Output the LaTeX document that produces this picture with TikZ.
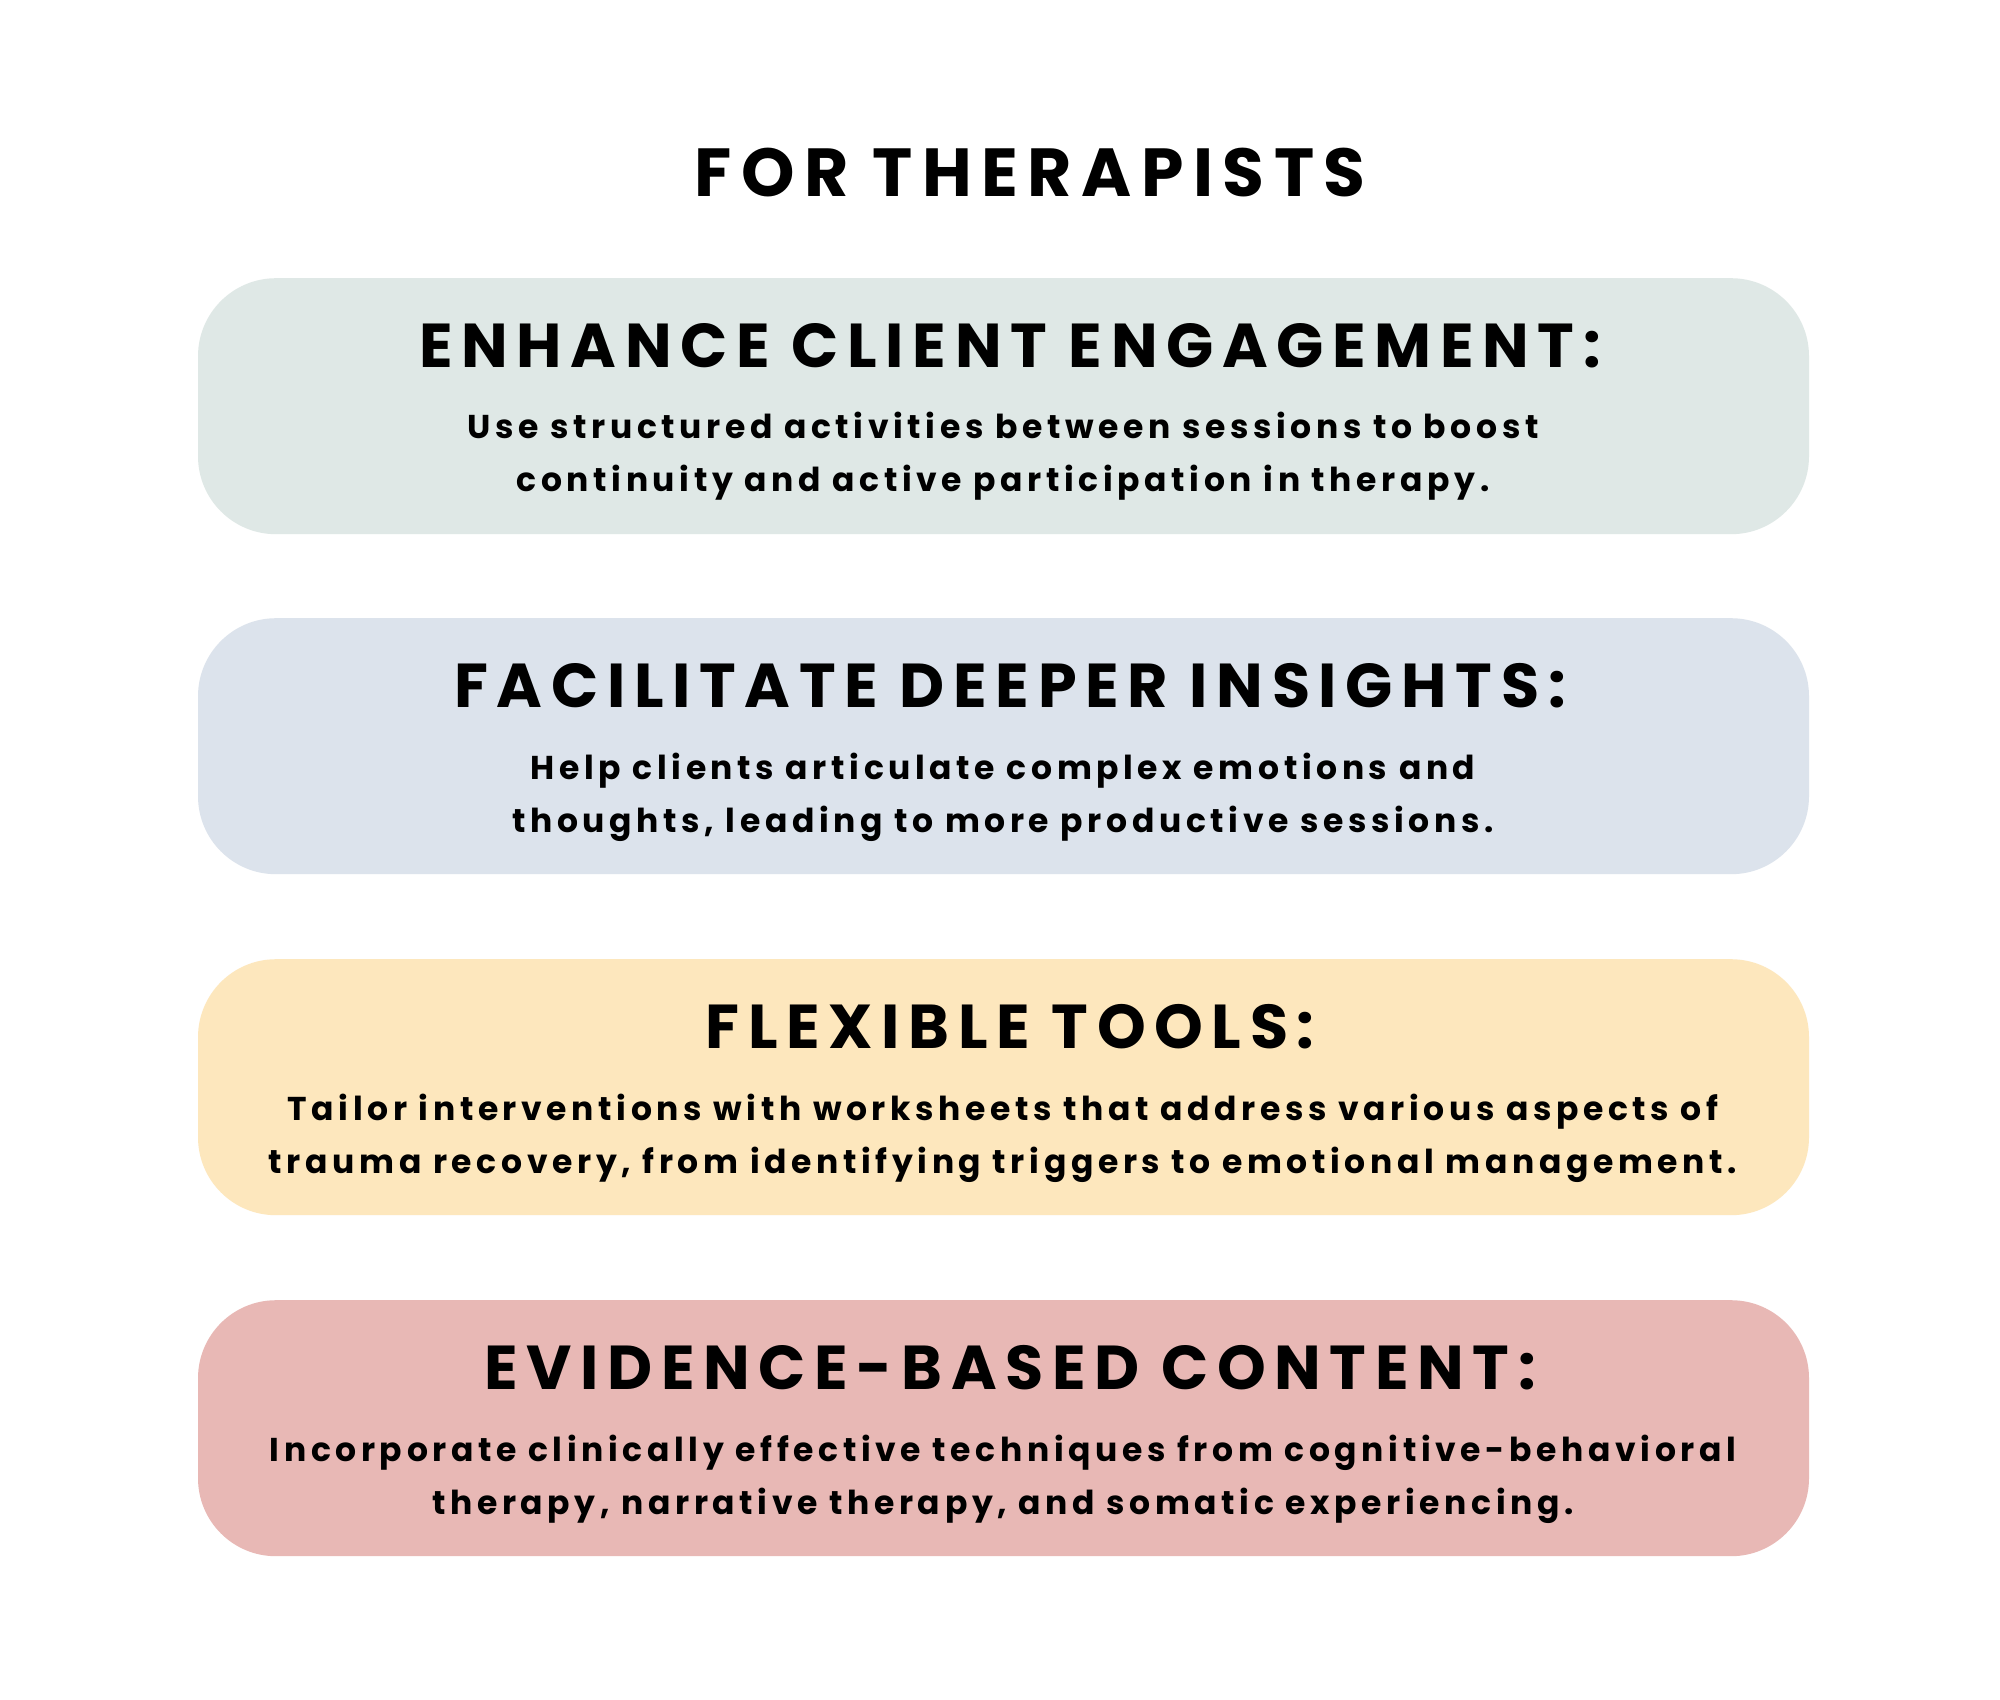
\documentclass[tikz,border=0pt]{standalone}
\usepackage{fontspec}
\setmainfont{Poppins}
\definecolor{c1}{HTML}{DFE8E6}
\definecolor{c2}{HTML}{DCE3EC}
\definecolor{c3}{HTML}{FDE7BD}
\definecolor{c4}{HTML}{E8B8B5}
\begin{document}
\begin{tikzpicture}[x=1pt,y=-1pt,
  card/.style={rounded corners=78pt,minimum width=1611pt,minimum height=256pt,inner sep=0pt},
  head/.style={font=\fontsize{62}{70}\selectfont\bfseries\addfontfeature{LetterSpace=14}},
  body/.style={align=center,font=\fontsize{33}{53}\selectfont\bfseries\addfontfeature{LetterSpace=14}}]
\useasboundingbox[fill=white] (0,0) rectangle (2000,1700);
\node[font=\fontsize{68}{70}\selectfont\bfseries\addfontfeature{LetterSpace=14}] (title) at (1030,173) {FOR THERAPISTS};
\foreach \i/\c/\y in {1/c1/278,2/c2/618,3/c3/959,4/c4/1300}{
  \node[card,fill=\c,anchor=north] (b\i) at (1003.5,\y) {};
}
\node[head] (h1) at (1010,346) {ENHANCE CLIENT ENGAGEMENT:};
\node[body] (t1) at (1003,456) {Use structured activities between sessions to boost\\continuity and active participation in therapy.};
\node[head] (h2) at (1010,686) {FACILITATE DEEPER INSIGHTS:};
\node[body] (t2) at (1003,797) {Help clients articulate complex emotions and\\thoughts, leading to more productive sessions.};
\node[head] (h3) at (1010,1027) {FLEXIBLE TOOLS:};
\node[body] (t3) at (1003,1138) {Tailor interventions with worksheets that address various aspects of\\trauma recovery, from identifying triggers to emotional management.};
\node[head] (h4) at (1010,1368) {EVIDENCE-BASED CONTENT:};
\node[body] (t4) at (1003,1479) {Incorporate clinically effective techniques from cognitive-behavioral\\therapy, narrative therapy, and somatic experiencing.};
\end{tikzpicture}
\end{document}
